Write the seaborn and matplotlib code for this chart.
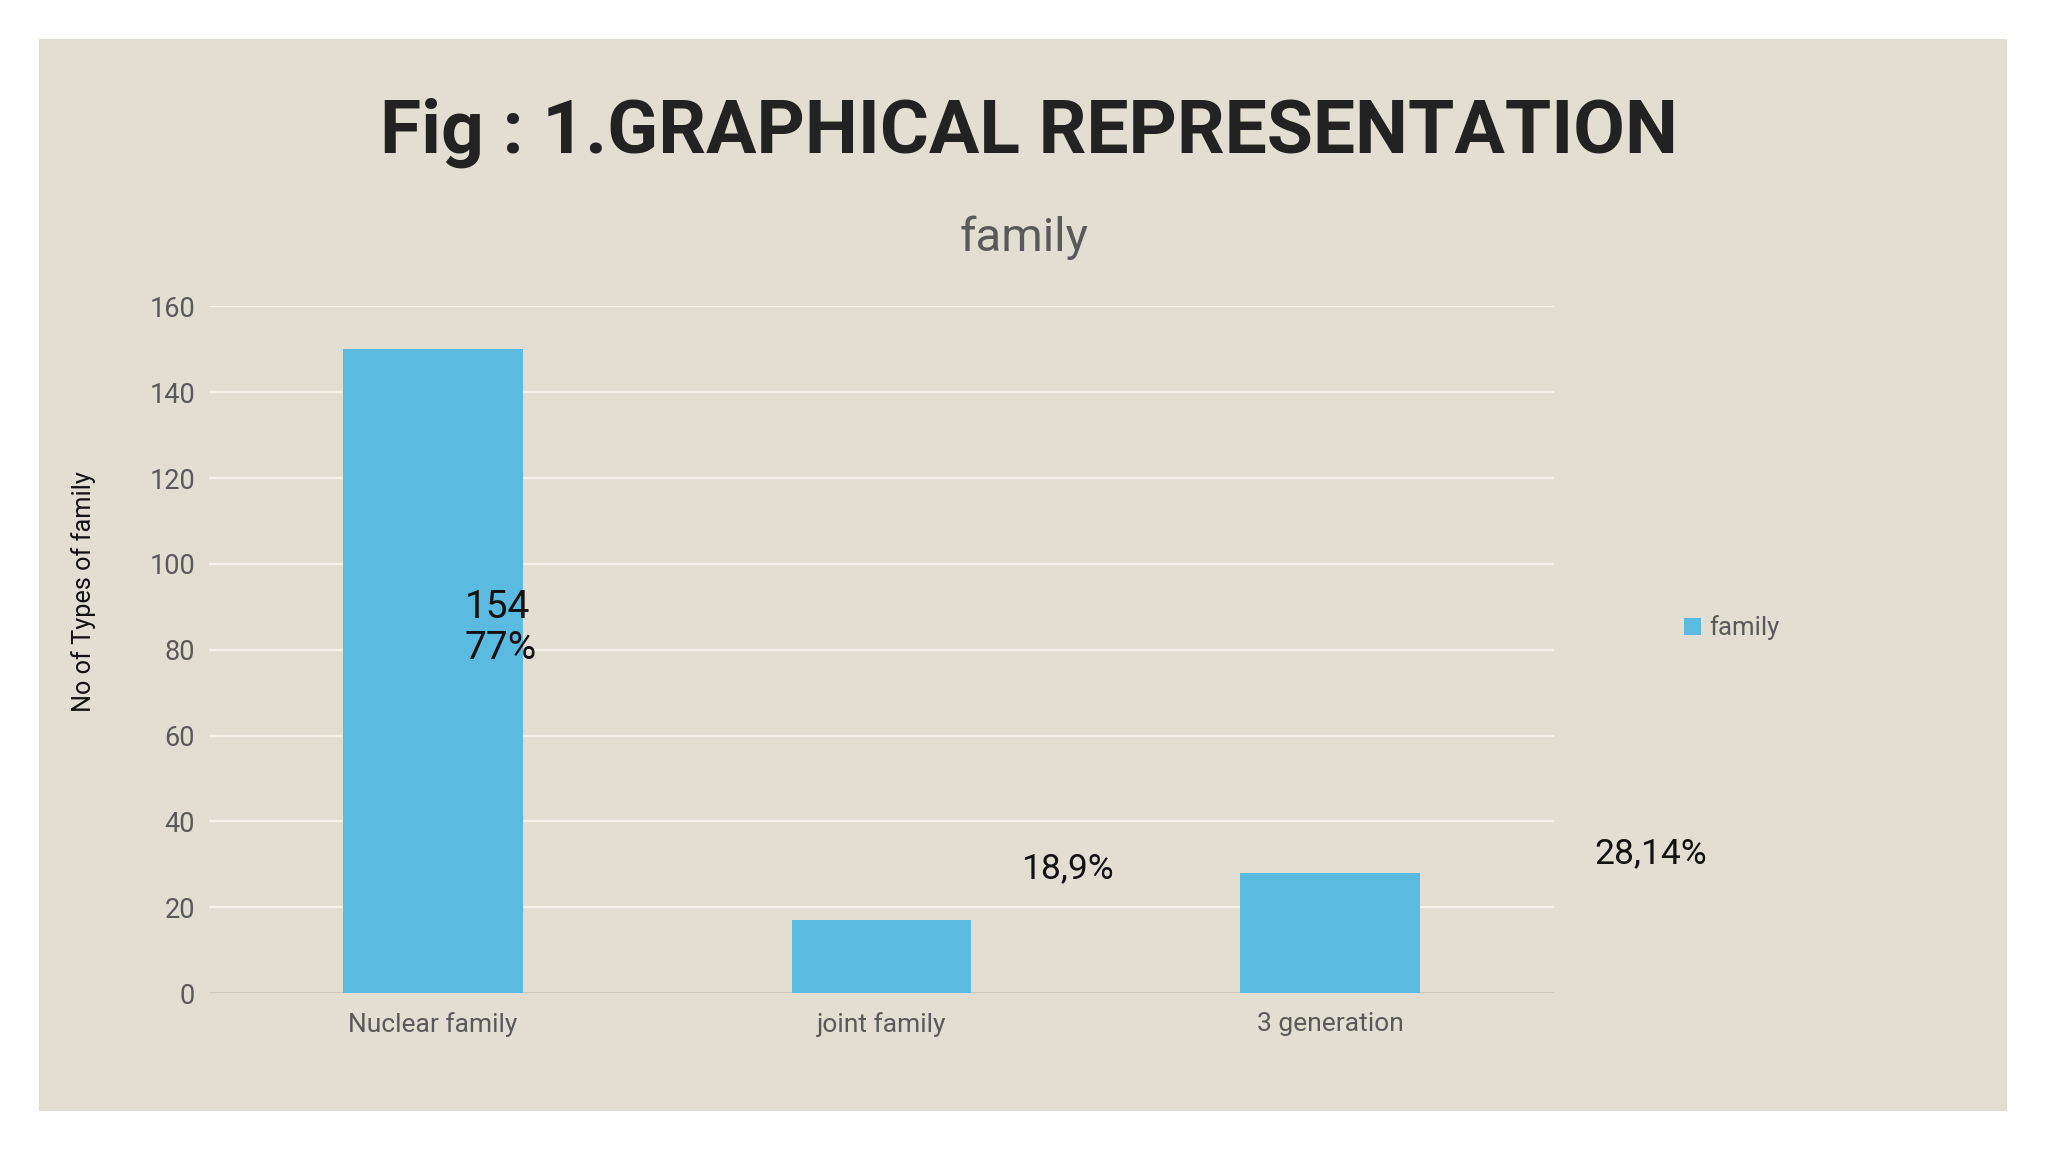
import matplotlib
matplotlib.use('Agg')
import matplotlib.pyplot as plt
import seaborn as sns
from matplotlib.patches import Rectangle

# Data
categories = ['Nuclear family', 'joint family', '3 generation']
counts = [150, 17, 28]
series_name = 'family'
label_texts = ['154\n77%', '18,9%', '28,14%']
label_x = [0.07, 1.31, 2.59]
label_y = [85, 29, 32.5]
label_sizes = [28, 25.5, 25.5]
y_ticks = [0, 20, 40, 60, 80, 100, 120, 140, 160]

sns.set_theme(style='white')
plt.rcParams['font.family'] = ['Roboto', 'DejaVu Sans']

bg = '#E2DFD2'
bar_color = '#5BBADF'
gray = '#595959'

fig = plt.figure(figsize=(20.48, 11.52), dpi=100, facecolor='white')
# beige panel behind the chart
fig.patches.append(Rectangle((0.019, 0.036), 0.961, 0.930, transform=fig.transFigure,
                             facecolor=bg, edgecolor='none', zorder=-10))

ax = fig.add_axes([0.102, 0.138, 0.657, 0.596])
ax.set_facecolor('none')

sns.barplot(x=categories, y=counts, color=bar_color, width=0.4, saturation=1,
            linewidth=0, label=series_name, ax=ax, zorder=3)

ax.set_ylim(0, 160)
ax.set_xlim(-0.5, 2.5)
ax.set_yticks(y_ticks)
for v in y_ticks[1:]:
    ax.axhline(v, color='#F3F1EA', lw=1.6, zorder=1)
ax.axhline(0, color='#C9C6BD', lw=2, zorder=2)

for s in ax.spines.values():
    s.set_visible(False)
ax.tick_params(axis='both', length=0, labelsize=19, labelcolor=gray)
ax.tick_params(axis='y', pad=10, labelsize=19.5)
ax.tick_params(axis='x', pad=14)
ax.set_xlabel('')
ax.set_ylabel('No of Types of family', fontsize=18.2, color='#111111')
ax.yaxis.set_label_coords(-0.084, 0.584)

for t, x, y, fs in zip(label_texts, label_x, label_y, label_sizes):
    ax.text(x, y, t, fontsize=fs, color='#111111', ha='left', va='center',
            linespacing=1.15, clip_on=False, zorder=5)

leg = ax.legend(loc='center left', bbox_to_anchor=(0.811, 0.455), bbox_transform=fig.transFigure,
                frameon=False, fontsize=18.5, handlelength=0.65, handleheight=0.65,
                handletextpad=0.35)
for txt in leg.get_texts():
    txt.set_color(gray)

fig.text(0.5025, 0.885, 'Fig : 1.GRAPHICAL REPRESENTATION', ha='center', va='center',
         fontsize=54, fontweight='bold', color='#222222')
fig.text(0.5, 0.7935, 'family', ha='center', va='center', fontsize=34, color=gray)

fig.savefig('out.png', dpi=100, facecolor='white')
